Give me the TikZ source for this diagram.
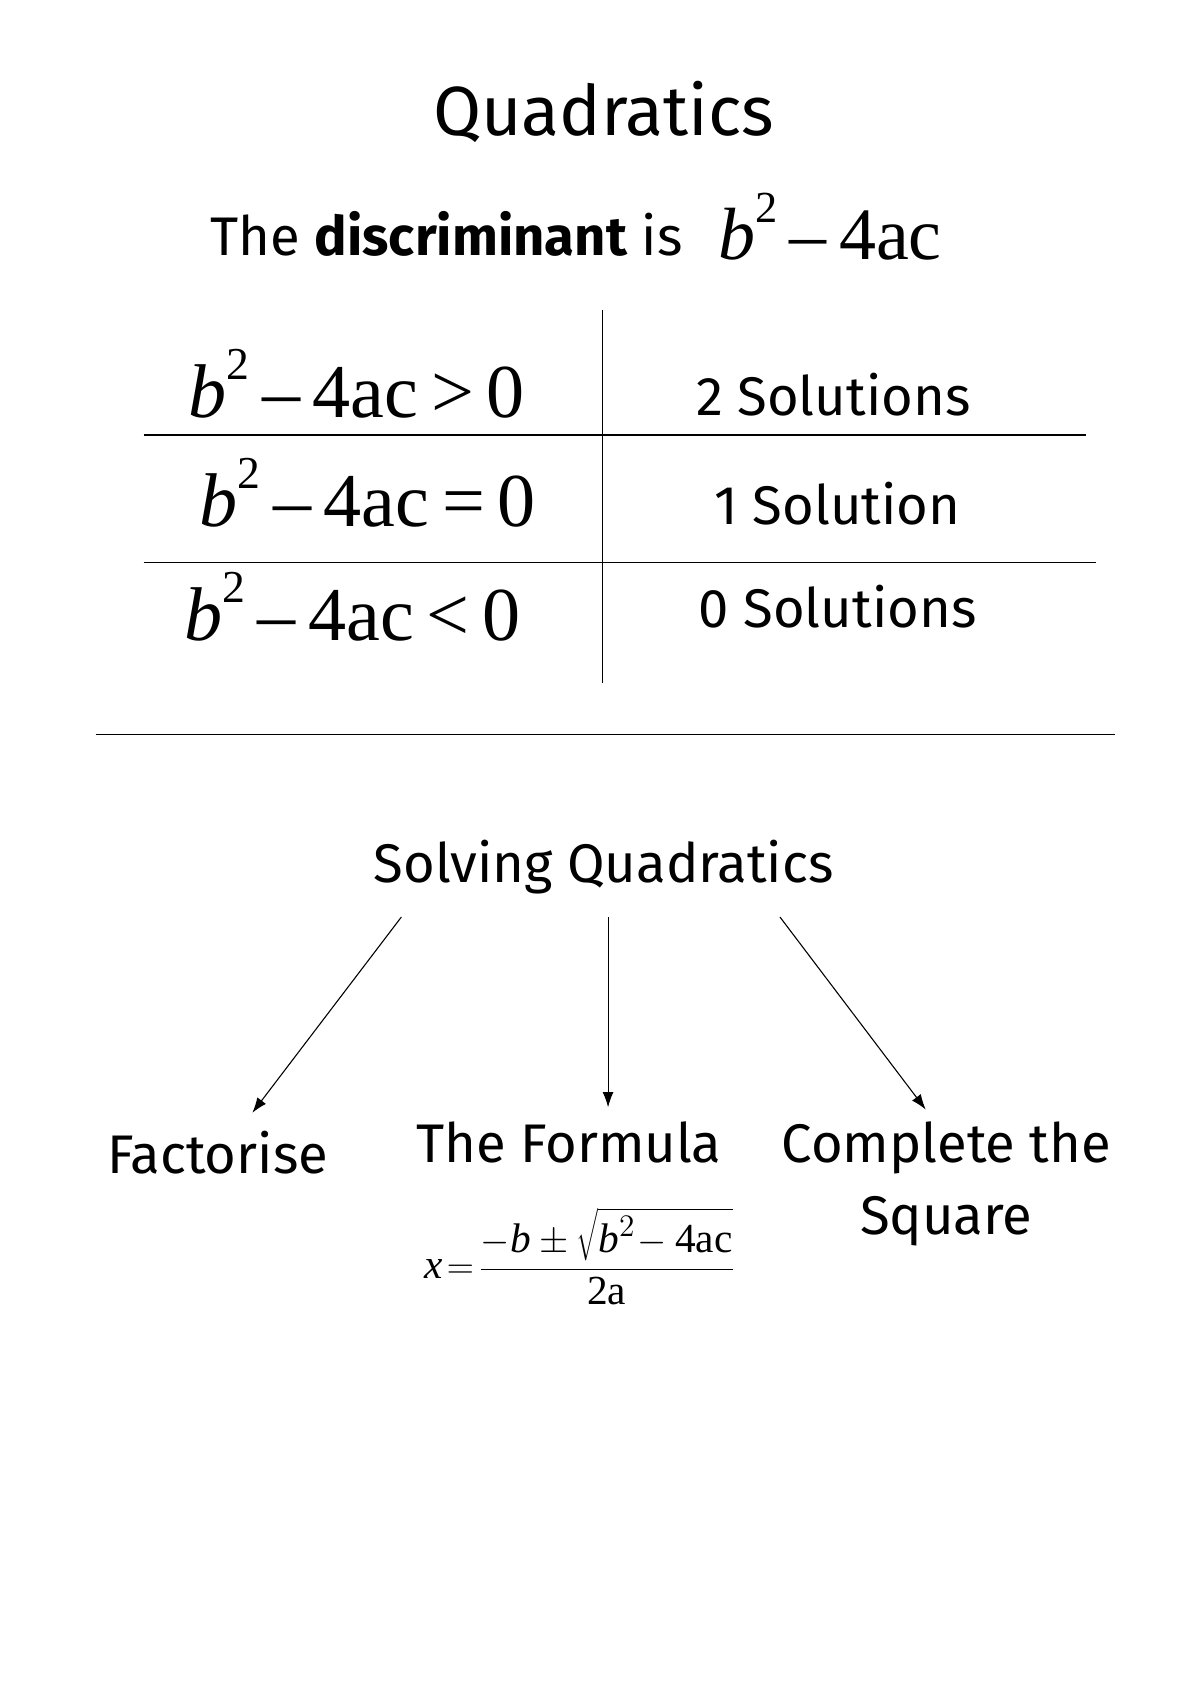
\documentclass[tikz,border=0pt]{standalone}
\usepackage{fontspec}
\setmainfont{Liberation Serif}
\newfontfamily\hand{Fira Sans}
\usetikzlibrary{arrows.meta}
\newcommand\Bsq{{\itshape b}\raisebox{0.5em}{\scalebox{0.6}{2}}\,–\,4ac}
\newcommand\tb{\mbox{\itshape b}}
\tikzset{
 lbl/.style={font=\hand\fontsize{25}{30}\selectfont, inner sep=0pt},
 eq/.style={font=\fontsize{35}{40}\selectfont, inner sep=0pt},
 rule/.style={line width=0.6pt},
 arr/.style={-{Latex[length=7pt,width=5pt]}, line width=0.5pt}
}
\begin{document}
\begin{tikzpicture}[x=0.5pt,y=-0.5pt]
\useasboundingbox (0,0) rectangle (1103,1561);
\node[lbl,font=\hand\fontsize{32}{36}\selectfont] (title) at (555,103) {Quadratics};
\node[lbl,anchor=east] (disc) at (628,215) {The \textbf{discriminant} is};
\node[eq,anchor=west,font=\fontsize{34}{36}\selectfont] (de) at (660,208) {\Bsq};
\draw[rule] (554,285) coordinate (vt) -- (554,628) coordinate (vb);
\draw[rule] (132,400) coordinate (h1a) -- (998,400) coordinate (h1b);
\draw[rule] (132,517) coordinate (h2a) -- (1008,517) coordinate (h2b);
\draw[rule] (88,675) coordinate (h3a) -- (1025,675) coordinate (h3b);
\node[eq] (e1) at (328,353) {\Bsq\,>\,0};
\node[eq] (e2) at (338,453) {\Bsq\,=\,0};
\node[eq] (e3) at (324,558) {\Bsq\,<\,0};
\node[lbl] (s1) at (766,363) {2 Solutions};
\node[lbl] (s2) at (770,463) {1 Solution};
\node[lbl] (s3) at (770,558) {0 Solutions};
\node[lbl] (sq) at (555,797) {Solving Quadratics};
\node[lbl] (fac) at (200,1060) {Factorise};
\node[lbl] (form) at (523,1050) {The Formula};
\node[lbl] (cts) at (870,1055) {Complete the};
\node[lbl] (sqr) at (870,1123) {Square};
\node[inner sep=0pt,font=\fontsize{19}{20}\selectfont] (fx) at (533,1155) {$\mbox{\itshape x}\!=\!\displaystyle\frac{-\tb\pm\sqrt{\tb^2\!-\mbox{4ac}}}{\mbox{2a}}$};
\coordinate (a1) at (369,843); \coordinate (b1) at (232,1023);
\coordinate (a2) at (559,843); \coordinate (b2) at (559,1018);
\coordinate (a3) at (717,843); \coordinate (b3) at (851,1020);
\draw[arr] (a1) -- (b1);
\draw[arr] (a2) -- (b2);
\draw[arr] (a3) -- (b3);
\end{tikzpicture}
\end{document}
